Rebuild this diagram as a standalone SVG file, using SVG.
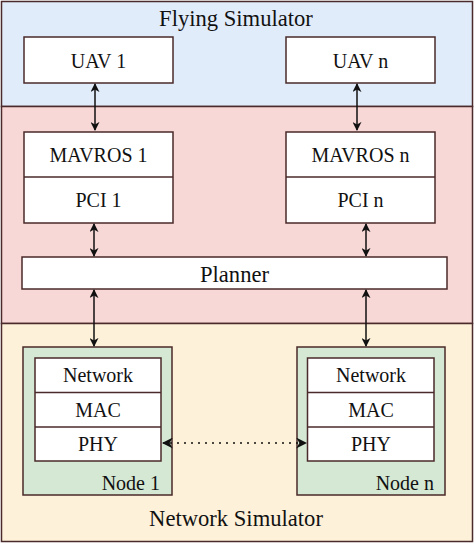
<svg xmlns="http://www.w3.org/2000/svg" width="474" height="543" viewBox="0 0 474 543">
<style>
text{font-family:"Liberation Serif","Times New Roman",serif;font-size:20px;fill:#111;text-anchor:middle}
.title{font-size:22.6px}
.box{fill:#fff;stroke:#4a2a2a;stroke-width:1.5}
.sec{stroke:#4a2a2a;stroke-width:1.5}
.node{fill:#d5e8d4;stroke:#4a2a2a;stroke-width:1.5}
.con{stroke:#111;stroke-width:1.5;fill:none}
</style>
<defs>
<marker id="ah" viewBox="0 0 10 10" refX="9" refY="5" markerWidth="9" markerHeight="9" orient="auto-start-reverse" markerUnits="userSpaceOnUse">
<path d="M0,0 L10,5 L0,10 L3,5 Z" fill="#111"/>
</marker>
<marker id="ah2" viewBox="0 0 10 10" refX="9" refY="5" markerWidth="11" markerHeight="11" orient="auto-start-reverse" markerUnits="userSpaceOnUse">
<path d="M0,0 L10,5 L0,10 L3,5 Z" fill="#111"/>
</marker>
</defs>
<g id="flying-simulator">
<rect class="sec" x="1.5" y="1.5" width="471" height="105" fill="#e1ecfa"/>
<text class="title" x="236" y="26">Flying Simulator</text>
</g>
<g id="middle-section">
<rect class="sec" x="1.5" y="106.5" width="471" height="217" fill="#f8d8d6"/>
</g>
<g id="network-simulator">
<rect class="sec" x="1.5" y="323.5" width="471" height="218" fill="#fdf2d9"/>
<text class="title" x="236" y="526">Network Simulator</text>
</g>
<g id="uav1"><rect class="box" x="24" y="37" width="149" height="46"/><text x="98.5" y="68">UAV 1</text></g>
<g id="uavn"><rect class="box" x="286" y="37" width="149" height="46"/><text x="360.5" y="68">UAV n</text></g>
<g id="mavros1"><rect class="box" x="24" y="132" width="149" height="91"/><line class="box" x1="24" y1="177" x2="173" y2="177"/><text x="98.5" y="162">MAVROS 1</text><text x="98.5" y="207">PCI 1</text></g>
<g id="mavrosn"><rect class="box" x="286" y="132" width="149" height="91"/><line class="box" x1="286" y1="177" x2="435" y2="177"/><text x="360.5" y="162">MAVROS n</text><text x="360.5" y="207">PCI n</text></g>
<g id="planner"><rect class="box" x="22" y="257" width="425" height="32"/><text class="title" x="234.5" y="282">Planner</text></g>
<g id="node1">
<rect class="node" x="23" y="347" width="149" height="148"/>
<rect class="box" x="35" y="358" width="126" height="103"/>
<line class="box" x1="35" y1="392.5" x2="161" y2="392.5"/>
<line class="box" x1="35" y1="427" x2="161" y2="427"/>
<text x="98" y="382">Network</text><text x="98" y="417">MAC</text><text x="98" y="451">PHY</text>
<text x="160" y="490" style="text-anchor:end">Node 1</text>
</g>
<g id="noden">
<rect class="node" x="297" y="347" width="148" height="148"/>
<rect class="box" x="307.5" y="358" width="126.5" height="103"/>
<line class="box" x1="307.5" y1="392.5" x2="434" y2="392.5"/>
<line class="box" x1="307.5" y1="427" x2="434" y2="427"/>
<text x="371" y="382">Network</text><text x="371" y="417">MAC</text><text x="371" y="451">PHY</text>
<text x="434" y="490" style="text-anchor:end">Node n</text>
</g>
<g id="connectors">
<line class="con" x1="95" y1="84" x2="95" y2="130" marker-start="url(#ah)" marker-end="url(#ah)"/>
<line class="con" x1="357" y1="84" x2="357" y2="130" marker-start="url(#ah)" marker-end="url(#ah)"/>
<line class="con" x1="94" y1="224" x2="94" y2="256" marker-start="url(#ah)" marker-end="url(#ah)"/>
<line class="con" x1="366" y1="224" x2="366" y2="256" marker-start="url(#ah)" marker-end="url(#ah)"/>
<line class="con" x1="94" y1="290" x2="94" y2="346" marker-start="url(#ah)" marker-end="url(#ah)"/>
<line class="con" x1="366" y1="290" x2="366" y2="346" marker-start="url(#ah)" marker-end="url(#ah)"/>
<line class="con" x1="163" y1="443" x2="306" y2="443" stroke-dasharray="2,5" stroke-width="2" marker-start="url(#ah2)" marker-end="url(#ah2)"/>
</g>
</svg>
